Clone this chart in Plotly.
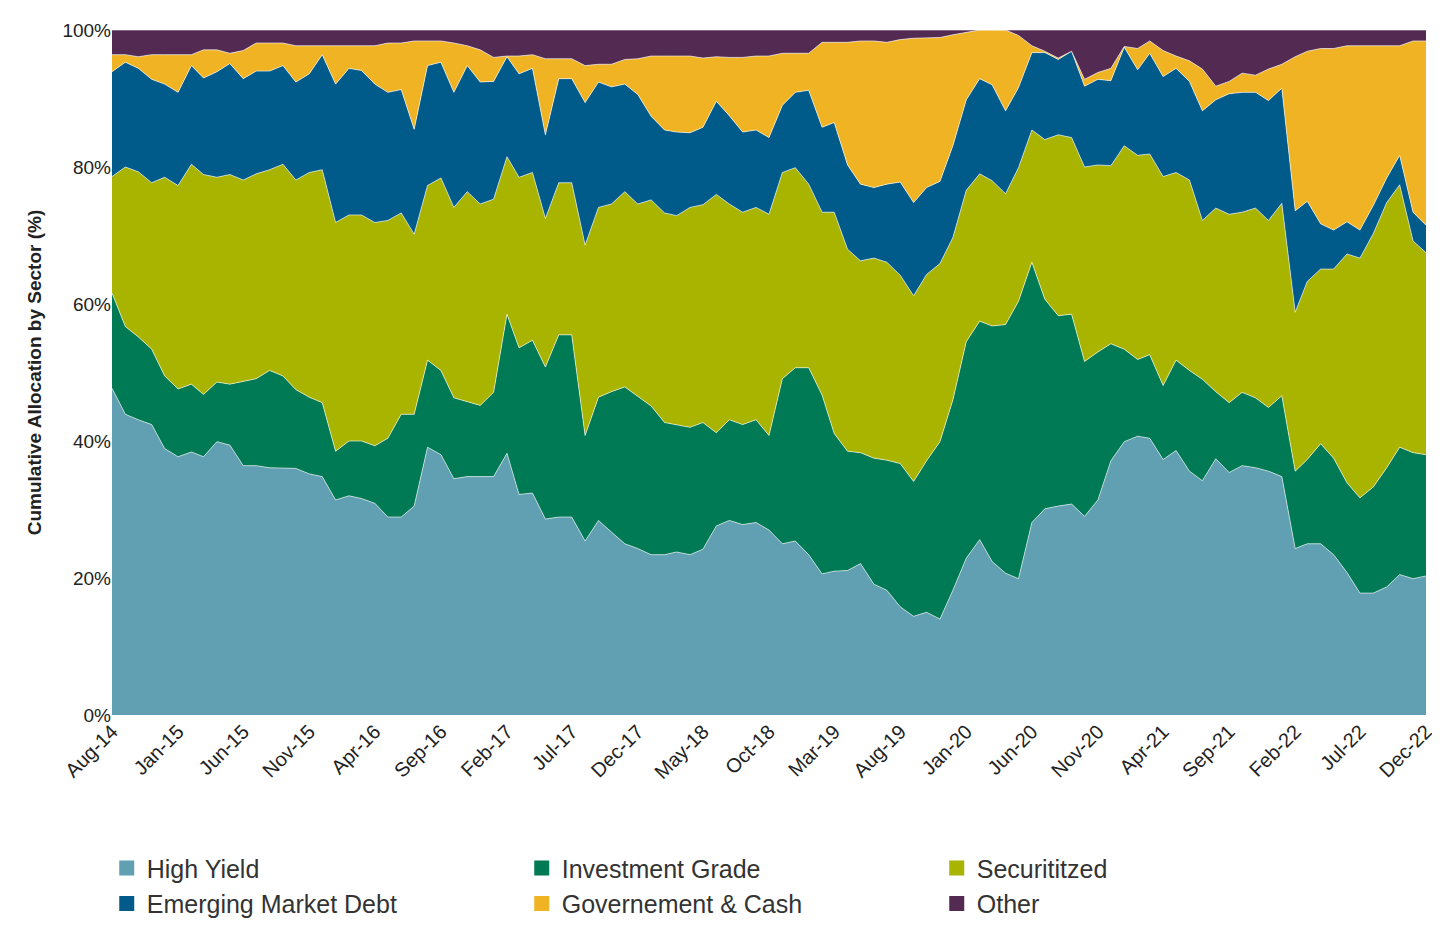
import numpy as np
import pandas as pd
import plotly.graph_objects as go

dates = pd.date_range("2014-08-01", periods=101, freq="MS")

# Cumulative tops (%), Aug-14 .. Dec-22
high_yield_cum = [47.7,43.9,43.1,42.4,38.9,37.7,38.4,37.7,39.9,39.4,
 36.4,36.4,36.1,36,36,35.2,34.8,31.4,32,31.6,
 30.9,28.9,28.9,30.5,39.1,38,34.5,34.8,34.8,34.8,
 38.2,32.2,32.4,28.6,28.9,28.9,25.4,28.4,26.7,25,
 24.3,23.4,23.4,23.8,23.4,24.2,27.6,28.4,27.8,28.1,
 27,25,25.4,23.4,20.6,21,21.1,22.1,19.1,18.2,
 15.8,14.4,15,14,18.2,22.9,25.6,22.4,20.7,19.9,
 28.1,30.1,30.5,30.8,29,31.4,37.1,39.9,40.7,40.4,
 37.3,38.6,35.6,34.2,37.4,35.4,36.4,36.1,35.6,34.8,
 24.3,25,25,23.4,20.8,17.8,17.8,18.7,20.5,19.9,20.3]
invest_grade_cum = [61.6,56.7,55.2,53.4,49.5,47.6,48.3,46.8,48.6,48.3,
 48.7,49.1,50.3,49.5,47.5,46.4,45.6,38.5,40,40,
 39.3,40.4,43.9,43.9,51.8,50.3,46.3,45.7,45.2,47.1,
 58.5,53.6,54.7,50.8,55.5,55.5,40.8,46.4,47.2,47.9,
 46.5,45.1,42.7,42.4,42,42.7,41.2,43.1,42.4,43.1,
 40.8,49.1,50.7,50.7,46.7,41.1,38.5,38.3,37.5,37.2,
 36.7,34.1,37.1,39.9,46,54.5,57.5,56.8,57,60.4,
 66.1,60.7,58.3,58.5,51.6,53,54.2,53.4,51.9,52.6,
 48.1,51.8,50.3,49,47.2,45.6,47.1,46.3,44.9,46.6,
 35.6,37.3,39.6,37.5,33.9,31.7,33.3,36.1,39.1,38.3,38]
securitized_cum = [78.6,80,79.3,77.7,78.5,77.3,80.4,78.9,78.5,78.9,
 78.1,79,79.6,80.4,78.1,79.2,79.6,71.9,73,73,
 71.9,72.2,73.3,70.2,77.3,78.4,74.1,76.4,74.6,75.3,
 81.5,78.5,79.2,72.5,77.7,77.7,68.6,74.1,74.6,76.4,
 74.6,75.2,73.3,72.9,74.1,74.5,76,74.6,73.4,74.1,
 73.1,79.2,79.9,77.5,73.4,73.4,68,66.3,66.7,66.1,
 64.2,61.2,64.3,65.9,69.7,76.6,79,78,76.1,79.9,
 85.4,84,84.7,84.3,80,80.3,80.2,83.1,81.7,81.9,
 78.6,79.2,78.1,72.2,74,73.1,73.4,74,72.2,74.7,
 58.8,63.3,65.1,65.1,67.3,66.7,70.3,74.8,77.4,69.2,67.5]
emerging_cum = [93.9,95.3,94.4,92.8,92.1,90.9,94.8,93,93.9,95.1,
 92.9,94,94,94.8,92.4,93.6,96.4,92.1,94.4,94.1,
 92.1,90.9,91.3,85.5,94.8,95.3,90.9,94.8,92.4,92.5,
 96.1,93.6,94.4,84.7,92.9,92.9,89.4,92.4,91.7,92.1,
 90.6,87.4,85.4,85.1,85,85.8,89.6,87.5,85.1,85.4,
 84.3,89,90.9,91.2,85.8,86.5,80.3,77.5,77,77.5,
 77.8,74.8,77,77.9,83.1,89.8,92.9,92,88.2,91.6,
 96.7,96.7,95.7,96.9,91.8,92.8,92.6,97.5,94.2,96.6,
 93.2,94.4,92.5,88.2,89.8,90.7,90.9,90.9,89.7,91.5,
 73.6,75,71.7,70.8,72,70.8,74.4,78.4,81.7,73.4,71.5]
government_cum = [96.4,96.4,96.1,96.4,96.4,96.4,96.4,97.1,97.1,96.6,
 97,98.1,98.1,98.1,97.7,97.7,97.7,97.7,97.7,97.7,
 97.7,98.1,98.1,98.4,98.4,98.4,98.1,97.7,97.1,96,
 96.2,96.2,96.4,95.8,95.8,95.8,94.8,95,95,95.7,
 95.8,96.2,96.2,96.2,96.2,95.9,96.1,96,96,96.2,
 96.2,96.6,96.6,96.6,98.2,98.2,98.2,98.4,98.4,98.2,
 98.6,98.8,98.9,98.9,99.3,99.7,100,100,100,99.2,
 97.7,96.9,95.9,96.9,92.8,93.8,94.4,97.6,97.3,98.4,
 97,96.2,95.5,94.3,91.8,92.5,93.7,93.4,94.3,95,
 96.1,96.9,97.3,97.3,97.7,97.7,97.7,97.7,97.7,98.4,98.4]
other_cum = [100] * 101

names = ["High Yield", "Investment Grade", "Securititzed", "Emerging Market Debt",
         "Governement & Cash", "Other"]
colors = ["#61a0b2", "#007a55", "#a9b400", "#005b8b", "#f0b323", "#532a51"]
series = [high_yield_cum, invest_grade_cum, securitized_cum, emerging_cum, government_cum, other_cum]

fig = go.Figure()
prev = np.zeros(101)
for i, (nm, col, s) in enumerate(zip(names, colors, series)):
    arr = np.maximum(np.array(s, dtype=float), prev)
    fig.add_trace(go.Scatter(x=dates, y=arr, name=nm, mode="lines", showlegend=False,
                             line=dict(width=0.6, color="white"),
                             fill="tozeroy" if i == 0 else "tonexty",
                             fillcolor=col, hoverinfo="skip"))
    prev = arr

for nm, col in zip(names, colors):
    fig.add_trace(go.Scatter(x=[None], y=[None], name=nm, mode="markers",
                             marker=dict(symbol="square", size=15, color=col)))

fig.update_layout(
    width=1440, height=930, plot_bgcolor="white", paper_bgcolor="white",
    margin=dict(l=104, r=18, t=14, b=210),
    font=dict(family="Liberation Sans, Arial", color="#222"),
    showlegend=True,
    legend=dict(orientation="h", x=-0.004, xanchor="left", y=-0.19, yanchor="top",
                entrywidth=370, entrywidthmode="pixels", font=dict(size=25, color="#333"),
                itemwidth=30, tracegroupgap=0, traceorder="normal"),
)
fig.update_xaxes(range=[dates[0], dates[-1]], tick0="2014-08-01", dtick="M5",
                 tickformat="%b-%y", tickangle=-45, tickfont=dict(size=20),
                 showgrid=False, showline=False, ticks="")
fig.update_yaxes(range=[0, 100], dtick=20, ticksuffix="%", tickfont=dict(size=19),
                 showgrid=False, zeroline=False,
                 title=dict(text="<b>Cumulative Allocation by Sector (%)</b>", font=dict(size=19)))
fig.write_html("out.html")
